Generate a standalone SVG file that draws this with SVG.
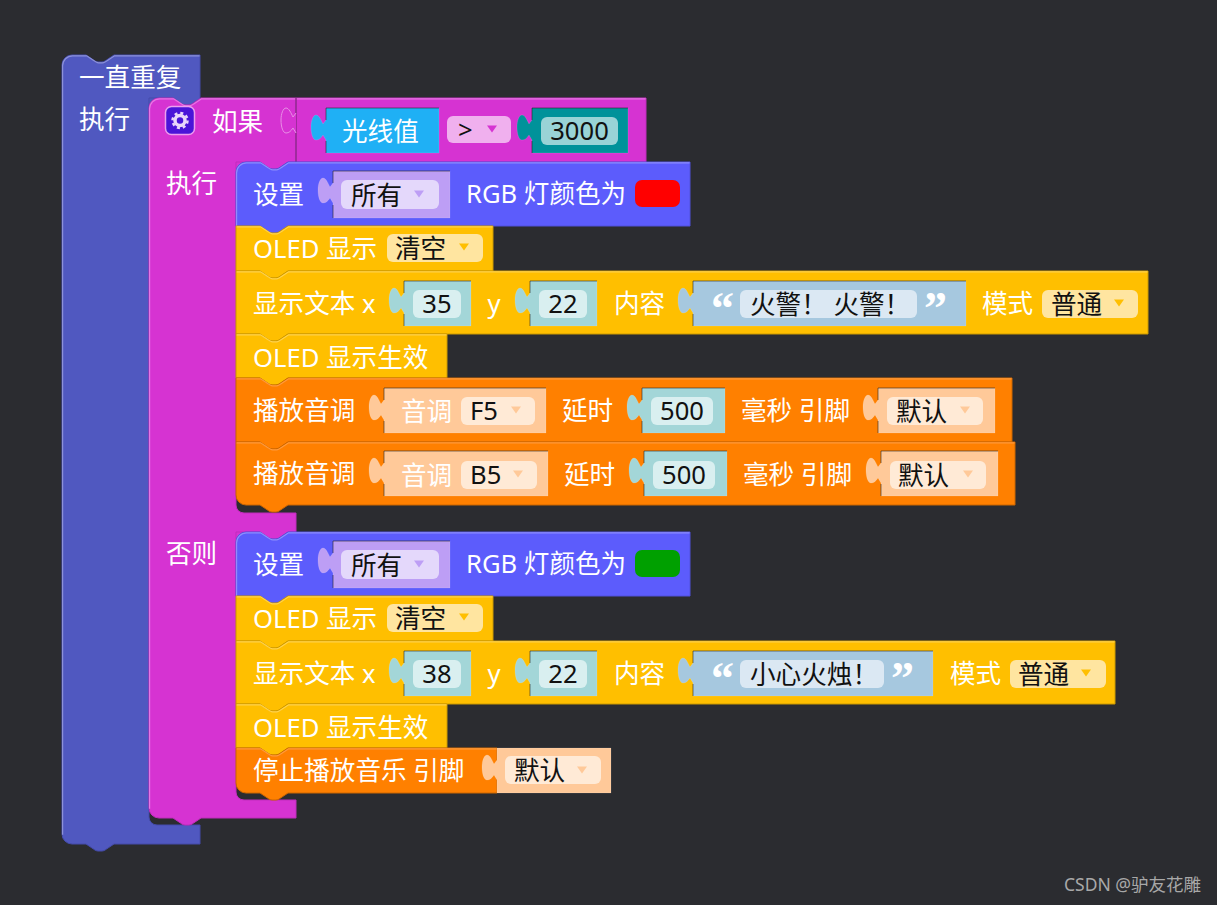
<svg xmlns="http://www.w3.org/2000/svg" width="1217" height="905" viewBox="0 0 1217 905">
<style>
text{font-family:"Noto Sans","Noto Sans CJK SC",sans-serif;font-size:25.6px}
.t{fill:#fff;transform:translateY(.8px)}.k{fill:#111}.m{text-anchor:middle}
.q{font-family:"Liberation Serif",serif;font-size:46px;font-weight:bold;fill:#fff}
.bl{fill:#5058c0;stroke:#444bab}.ma{fill:#d633d2;stroke:#c02cbc}.pu{fill:#5c5cfc;stroke:#5050dc}.ye{fill:#ffbf00;stroke:#cc9900}.or{fill:#ff8000;stroke:#cc6600}
.hb,.hm,.hp,.hy,.ho{fill:none;stroke-width:1.2;transform:translate(.6px,.8px)}
.hb{stroke:#8c91d9}.hm{stroke:#e676e3}.hp{stroke:#8d8dfd}.hy{stroke:#ffd24d}.ho{stroke:#ff9a3d}
.e{fill:none;stroke:#000;stroke-opacity:.5;stroke-width:1}
.fc,.fv,.fl,.fg,.fs,.fo{stroke:#fff;stroke-opacity:.12}
.fc{fill:#1fb0f5}.fv{fill:#00929a}.fl{fill:#bd9ef5}.fg{fill:#a3d6d8}.fs{fill:#a6c8df}.fo{fill:#ffc999}
.il{fill:#e4d8fb}.iv{fill:#99d3d6}.ig{fill:#d9eff0}.is{fill:#dbe8f3}.io{fill:#ffead6}.iy{fill:#ffe5a0}.ip{fill:#f0b0ee}
</style>
<defs>
<path id="a" d="M-5 -3.500h10l-5 7z"/>
</defs>
<rect width="1217" height="905" fill="#2b2c30"/>

<g id="loop-block">
<rect x="148" y="97" width="12" height="12" fill="#5058c0"/>
<path class="bl" d="M62 65a10 10 0 0 1 10-10H86l6 4c2 1.500 4 3 6 3h4c2 0 4-1.500 6-3l6-4H200V99L195 102c-2 1.500-4 3-6 3h-4c-2 0-4-1.500-6-3l-6-4H149V817a8 8 0 0 0 8 8H200V844H114l-6 4c-2 1.500-4 3-6 3h-4c-2 0-4-1.500-6-3l-6-4H72a10 10 0 0 1-10-10Z"/>
<path class="hb" d="M62 834V65a10 10 0 0 1 10-10H86l6 4c2 1.500 4 3 6 3h4c2 0 4-1.500 6-3l6-4H199"/>
<text class="t" x="79" y="86">一直重复</text>
<text class="t" x="79" y="128">执行</text>
</g>

<g id="if-block">
<rect x="235" y="161" width="12" height="12" fill="#d633d2"/>
<rect x="235" y="531" width="12" height="12" fill="#d633d2"/>
<path class="ma" d="M149 108a10 10 0 0 1 10-10H173l6 4c2 1.500 4 3 6 3h4c2 0 4-1.500 6-3l6-4H646V162H288l-6 4c-2 1.500-4 3-6 3h-4c-2 0-4-1.500-6-3l-6-4H236V505a8 8 0 0 0 8 8H296V532H288l-6 4c-2 1.500-4 3-6 3h-4c-2 0-4-1.500-6-3l-6-4H236V792a8 8 0 0 0 8 8H296V818H201l-6 4c-2 1.500-4 3-6 3h-4c-2 0-4-1.500-6-3l-6-4H159a10 10 0 0 1-10-10Z"/>
<path class="hm" d="M149 808V108a10 10 0 0 1 10-10H173l6 4c2 1.500 4 3 6 3h4c2 0 4-1.500 6-3l6-4H645"/>
<path d="M296 98V162" stroke="#8e2a8c" stroke-width="1.500"/>
<path fill="#d633d2" stroke="#e88fe6" d="M296 133l-3-5c-2 3-4 5-7 5c-3 0-5-6-5-13c0-6 2-12 5-12c3 0 5 5 7 9l3-4"/>
<rect x="165.500" y="106.500" width="29" height="28" rx="6" fill="#4a14d8" stroke="#ec9ef0" stroke-width="1.500"/>
<circle cx="180" cy="120.500" r="5" fill="none" stroke="#e9d6fa" stroke-width="3.500"/>
<circle cx="180" cy="120.500" r="7.500" fill="none" stroke="#e9d6fa" stroke-width="2.500" stroke-dasharray="3 2.900"/>
<text class="t" x="212" y="130">如果</text>
<text class="t" x="166" y="192">执行</text>
<text class="t" x="166" y="562">否则</text>
</g>

<g id="light-value">
<path class="fc" d="M326 108h113v45h-113v-13l-3-5c-2 3-4 5-7 5c-3 0-5-6-5-13c0-6 2-12 5-12c3 0 5 5 7 9l3-4z"/>
<path class="e" d="M326 120V108H439M326 141V153"/>
<text class="t" x="342" y="140">光线值</text>
</g>
<g id="compare-op">
<rect class="ip" x="447" y="116" width="64" height="27" rx="6"/>
<text class="k" x="458" y="139">&gt;</text>
<use href="#a" x="492" y="129" fill="#d633d2"/>
</g>
<g id="threshold-value">
<path class="fv" d="M532 108h96v45h-96v-13l-3-5c-2 3-4 5-7 5c-3 0-5-6-5-13c0-6 2-12 5-12c3 0 5 5 7 9l3-4z"/>
<path class="e" d="M532 120V108H628M532 141V153"/>
<rect class="iv" x="541" y="117" width="77" height="28" rx="6"/>
<text class="k m" x="579.500" y="140">3000</text>
</g>

<g id="rgb-red">
<path class="pu" d="M236 172a10 10 0 0 1 10-10H260l6 4c2 1.500 4 3 6 3h4c2 0 4-1.500 6-3l6-4H690V226H288l-6 4c-2 1.500-4 3-6 3h-4c-2 0-4-1.500-6-3l-6-4H236Z"/>
<path class="hp" d="M236 226V172a10 10 0 0 1 10-10H260l6 4c2 1.500 4 3 6 3h4c2 0 4-1.500 6-3l6-4H689"/>
<text class="t" x="253" y="203">设置</text>
<path class="fl" d="M333 171h117v47h-117v-15l-3-5c-2 3-4 5-7 5c-3 0-5-6-5-13c0-6 2-12 5-12c3 0 5 5 7 9l3-4z"/>
<path class="e" d="M333 183V171H450M333 205V218"/>
<rect class="il" x="341" y="180" width="98" height="29" rx="6"/>
<text class="k" x="351" y="205">所有</text>
<use href="#a" x="419" y="194" fill="#bd9ef5"/>
<text class="t" x="466" y="202">RGB 灯颜色为</text>
<rect x="635" y="180" width="45" height="27" rx="7" fill="#f00"/>
</g>
<g id="oled-clear-1">
<path class="ye" d="M236 226H260l6 4c2 1.500 4 3 6 3h4c2 0 4-1.500 6-3l6-4H493V271H288l-6 4c-2 1.500-4 3-6 3h-4c-2 0-4-1.500-6-3l-6-4H236Z"/>
<path class="hy" d="M236 226H260l6 4c2 1.500 4 3 6 3h4c2 0 4-1.500 6-3l6-4H492"/>
<text class="t" x="253" y="257">OLED 显示</text>
<rect class="iy" x="387" y="234" width="96" height="28" rx="6"/>
<text class="k" x="395" y="258">清空</text>
<use href="#a" x="464" y="247" fill="#ffbf00"/>
</g>
<g id="oled-text-1">
<path class="ye" d="M236 271H260l6 4c2 1.500 4 3 6 3h4c2 0 4-1.500 6-3l6-4H1148V334H288l-6 4c-2 1.500-4 3-6 3h-4c-2 0-4-1.500-6-3l-6-4H236Z"/>
<path class="hy" d="M236 271H260l6 4c2 1.500 4 3 6 3h4c2 0 4-1.500 6-3l6-4H1147"/>
<text class="t" x="253" y="312">显示文本 x</text>
<path class="fg" d="M404 281h67v45h-67v-13l-3-5c-2 3-4 5-7 5c-3 0-5-6-5-13c0-6 2-12 5-12c3 0 5 5 7 9l3-4z"/>
<path class="e" d="M404 293V281H471M404 314V326"/>
<rect class="ig" x="413" y="290" width="48" height="28" rx="6"/>
<text class="k m" x="437" y="313">35</text>
<text class="t m" x="494" y="312">y</text>
<path class="fg" d="M530 281h67v45h-67v-13l-3-5c-2 3-4 5-7 5c-3 0-5-6-5-13c0-6 2-12 5-12c3 0 5 5 7 9l3-4z"/>
<path class="e" d="M530 293V281H597M530 314V326"/>
<rect class="ig" x="539" y="290" width="48" height="28" rx="6"/>
<text class="k m" x="563" y="313">22</text>
<text class="t" x="614" y="312">内容</text>
<path class="fs" d="M693 281h273v45h-273v-13l-3-5c-2 3-4 5-7 5c-3 0-5-6-5-13c0-6 2-12 5-12c3 0 5 5 7 9l3-4z"/>
<path class="e" d="M693 293V281H966M693 314V326"/>
<text class="q" x="711" y="324">“</text>
<rect class="is" x="740" y="290" width="177" height="28" rx="6"/>
<text class="k" x="750" y="314" xml:space="preserve">火警！ 火警！</text>
<text class="q" x="924" y="324">”</text>
<text class="t" x="982" y="312">模式</text>
<rect class="iy" x="1042" y="290" width="96" height="28" rx="6"/>
<text class="k" x="1051" y="314">普通</text>
<use href="#a" x="1119" y="303" fill="#ffbf00"/>
</g>
<g id="oled-show-1">
<path class="ye" d="M236 334H260l6 4c2 1.500 4 3 6 3h4c2 0 4-1.500 6-3l6-4H447V378H288l-6 4c-2 1.500-4 3-6 3h-4c-2 0-4-1.500-6-3l-6-4H236Z"/>
<path class="hy" d="M236 334H260l6 4c2 1.500 4 3 6 3h4c2 0 4-1.500 6-3l6-4H446"/>
<text class="t" x="253" y="366">OLED 显示生效</text>
</g>
<g id="tone-f5">
<path class="or" d="M236 378H260l6 4c2 1.500 4 3 6 3h4c2 0 4-1.500 6-3l6-4H1012V442H288l-6 4c-2 1.500-4 3-6 3h-4c-2 0-4-1.500-6-3l-6-4H236Z"/>
<path class="ho" d="M236 378H260l6 4c2 1.500 4 3 6 3h4c2 0 4-1.500 6-3l6-4H1011"/>
<text class="t" x="253" y="419">播放音调</text>
<path class="fo" d="M384 388h162v45h-162v-13l-3-5c-2 3-4 5-7 5c-3 0-5-6-5-13c0-6 2-12 5-12c3 0 5 5 7 9l3-4z"/>
<path class="e" d="M384 400V388H546M384 421V433"/>
<text class="t" x="401" y="420">音调</text>
<rect class="io" x="461" y="397" width="74" height="28" rx="6"/>
<text class="k" x="470" y="420">F5</text>
<use href="#a" x="516" y="410" fill="#ffc999"/>
<text class="t" x="562" y="419">延时</text>
<path class="fg" d="M642 388h83v45h-83v-13l-3-5c-2 3-4 5-7 5c-3 0-5-6-5-13c0-6 2-12 5-12c3 0 5 5 7 9l3-4z"/>
<path class="e" d="M642 400V388H725M642 421V433"/>
<rect class="ig" x="651" y="397" width="62" height="28" rx="6"/>
<text class="k m" x="682" y="420">500</text>
<text class="t" x="741" y="419">毫秒 引脚</text>
<path class="fo" d="M878 388h117v45h-117v-13l-3-5c-2 3-4 5-7 5c-3 0-5-6-5-13c0-6 2-12 5-12c3 0 5 5 7 9l3-4z"/>
<path class="e" d="M878 400V388H995M878 421V433"/>
<rect class="io" x="887" y="397" width="96" height="28" rx="6"/>
<text class="k" x="896" y="421">默认</text>
<use href="#a" x="965" y="410" fill="#ffc999"/>
</g>
<g id="tone-b5">
<path class="or" d="M236 442H260l6 4c2 1.500 4 3 6 3h4c2 0 4-1.500 6-3l6-4H1015V505H288l-6 4c-2 1.500-4 3-6 3h-4c-2 0-4-1.500-6-3l-6-4H246a10 10 0 0 1-10-10Z"/>
<path class="ho" d="M236 442H260l6 4c2 1.500 4 3 6 3h4c2 0 4-1.500 6-3l6-4H1014"/>
<text class="t" x="253" y="482">播放音调</text>
<path class="fo" d="M384 451h164v45h-164v-13l-3-5c-2 3-4 5-7 5c-3 0-5-6-5-13c0-6 2-12 5-12c3 0 5 5 7 9l3-4z"/>
<path class="e" d="M384 463V451H548M384 484V496"/>
<text class="t" x="401" y="484">音调</text>
<rect class="io" x="461" y="461" width="76" height="28" rx="6"/>
<text class="k" x="470" y="484">B5</text>
<use href="#a" x="518" y="474" fill="#ffc999"/>
<text class="t" x="564" y="483">延时</text>
<path class="fg" d="M644 451h83v45h-83v-13l-3-5c-2 3-4 5-7 5c-3 0-5-6-5-13c0-6 2-12 5-12c3 0 5 5 7 9l3-4z"/>
<path class="e" d="M644 463V451H727M644 484V496"/>
<rect class="ig" x="653" y="461" width="62" height="28" rx="6"/>
<text class="k m" x="684" y="484">500</text>
<text class="t" x="743" y="483">毫秒 引脚</text>
<path class="fo" d="M881 451h117v45h-117v-13l-3-5c-2 3-4 5-7 5c-3 0-5-6-5-13c0-6 2-12 5-12c3 0 5 5 7 9l3-4z"/>
<path class="e" d="M881 463V451H998M881 484V496"/>
<rect class="io" x="890" y="461" width="96" height="28" rx="6"/>
<text class="k" x="898" y="485">默认</text>
<use href="#a" x="968" y="474" fill="#ffc999"/>
</g>

<g id="rgb-green">
<path class="pu" d="M236 542a10 10 0 0 1 10-10H260l6 4c2 1.500 4 3 6 3h4c2 0 4-1.500 6-3l6-4H690V596H288l-6 4c-2 1.500-4 3-6 3h-4c-2 0-4-1.500-6-3l-6-4H236Z"/>
<path class="hp" d="M236 596V542a10 10 0 0 1 10-10H260l6 4c2 1.500 4 3 6 3h4c2 0 4-1.500 6-3l6-4H689"/>
<text class="t" x="253" y="573">设置</text>
<path class="fl" d="M333 541h117v47h-117v-15l-3-5c-2 3-4 5-7 5c-3 0-5-6-5-13c0-6 2-12 5-12c3 0 5 5 7 9l3-4z"/>
<path class="e" d="M333 553V541H450M333 575V588"/>
<rect class="il" x="341" y="550" width="98" height="29" rx="6"/>
<text class="k" x="351" y="575">所有</text>
<use href="#a" x="419" y="564" fill="#bd9ef5"/>
<text class="t" x="466" y="572">RGB 灯颜色为</text>
<rect x="635" y="550" width="45" height="27" rx="7" fill="#00a000"/>
</g>
<g id="oled-clear-2">
<path class="ye" d="M236 596H260l6 4c2 1.500 4 3 6 3h4c2 0 4-1.500 6-3l6-4H493V641H288l-6 4c-2 1.500-4 3-6 3h-4c-2 0-4-1.500-6-3l-6-4H236Z"/>
<path class="hy" d="M236 596H260l6 4c2 1.500 4 3 6 3h4c2 0 4-1.500 6-3l6-4H492"/>
<text class="t" x="253" y="627">OLED 显示</text>
<rect class="iy" x="387" y="604" width="96" height="28" rx="6"/>
<text class="k" x="395" y="628">清空</text>
<use href="#a" x="464" y="617" fill="#ffbf00"/>
</g>
<g id="oled-text-2">
<path class="ye" d="M236 641H260l6 4c2 1.500 4 3 6 3h4c2 0 4-1.500 6-3l6-4H1115V704H288l-6 4c-2 1.500-4 3-6 3h-4c-2 0-4-1.500-6-3l-6-4H236Z"/>
<path class="hy" d="M236 641H260l6 4c2 1.500 4 3 6 3h4c2 0 4-1.500 6-3l6-4H1114"/>
<text class="t" x="253" y="682">显示文本 x</text>
<path class="fg" d="M404 651h67v45h-67v-13l-3-5c-2 3-4 5-7 5c-3 0-5-6-5-13c0-6 2-12 5-12c3 0 5 5 7 9l3-4z"/>
<path class="e" d="M404 663V651H471M404 684V696"/>
<rect class="ig" x="413" y="660" width="48" height="28" rx="6"/>
<text class="k m" x="437" y="683">38</text>
<text class="t m" x="494" y="682">y</text>
<path class="fg" d="M530 651h67v45h-67v-13l-3-5c-2 3-4 5-7 5c-3 0-5-6-5-13c0-6 2-12 5-12c3 0 5 5 7 9l3-4z"/>
<path class="e" d="M530 663V651H597M530 684V696"/>
<rect class="ig" x="539" y="660" width="48" height="28" rx="6"/>
<text class="k m" x="563" y="683">22</text>
<text class="t" x="614" y="682">内容</text>
<path class="fs" d="M693 651h240v45h-240v-13l-3-5c-2 3-4 5-7 5c-3 0-5-6-5-13c0-6 2-12 5-12c3 0 5 5 7 9l3-4z"/>
<path class="e" d="M693 663V651H933M693 684V696"/>
<text class="q" x="711" y="694">“</text>
<rect class="is" x="740" y="660" width="144" height="28" rx="6"/>
<text class="k" x="750" y="684">小心火烛！</text>
<text class="q" x="891" y="694">”</text>
<text class="t" x="950" y="682">模式</text>
<rect class="iy" x="1010" y="660" width="96" height="28" rx="6"/>
<text class="k" x="1018" y="684">普通</text>
<use href="#a" x="1086" y="673" fill="#ffbf00"/>
</g>
<g id="oled-show-2">
<path class="ye" d="M236 704H260l6 4c2 1.500 4 3 6 3h4c2 0 4-1.500 6-3l6-4H447V748H288l-6 4c-2 1.500-4 3-6 3h-4c-2 0-4-1.500-6-3l-6-4H236Z"/>
<path class="hy" d="M236 704H260l6 4c2 1.500 4 3 6 3h4c2 0 4-1.500 6-3l6-4H446"/>
<text class="t" x="253" y="736">OLED 显示生效</text>
</g>
<g id="stop-music">
<path class="or" d="M236 748H260l6 4c2 1.500 4 3 6 3h4c2 0 4-1.500 6-3l6-4H497V793H288l-6 4c-2 1.500-4 3-6 3h-4c-2 0-4-1.500-6-3l-6-4H246a10 10 0 0 1-10-10Z"/>
<path class="ho" d="M236 748H260l6 4c2 1.500 4 3 6 3h4c2 0 4-1.500 6-3l6-4H496"/>
<text class="t" x="253" y="779">停止播放音乐 引脚</text>
<path class="fo" d="M497 748h114v45h-114v-13l-3-5c-2 3-4 5-7 5c-3 0-5-6-5-13c0-6 2-12 5-12c3 0 5 5 7 9l3-4z"/>
<rect class="io" x="505" y="756" width="96" height="28" rx="6"/>
<text class="k" x="514" y="780">默认</text>
<use href="#a" x="582" y="770" fill="#ffc999"/>
</g>
<text id="watermark" x="1064" y="891" fill="#a8a8a8" style="font-size:17.500px">CSDN @驴友花雕</text>
</svg>
